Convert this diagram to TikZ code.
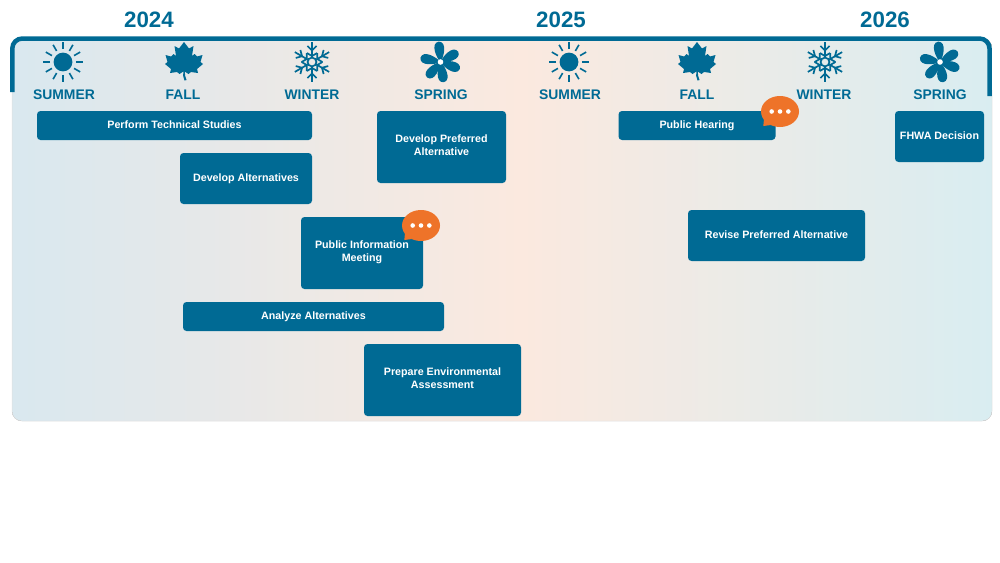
\documentclass[tikz,border=0pt]{standalone}
\usepackage{fontspec}
\setmainfont{Liberation Sans}
\usetikzlibrary{positioning,shapes.geometric,calc}
\definecolor{fhwablue}{HTML}{006A94}
\definecolor{bubbleorange}{HTML}{EE7329}
\definecolor{bgblue}{HTML}{D9E8EF}
\definecolor{bgpeach}{HTML}{FBE9DF}
\definecolor{bgteal}{HTML}{D9EDF1}
\tikzset{
	taskbox/.style={draw=none, fill=fhwablue, rounded corners=3.5pt, text=white, align=center,
		font=\fontsize{10.7}{13}\selectfont\bfseries, inner sep=0pt},
	oneline/.style={text height=7.6pt, text depth=2.5pt},
	twolines/.style={text depth=3.5pt},
	seasonlabel/.style={text=fhwablue, font=\fontsize{13.9}{16}\selectfont\bfseries, inner sep=0pt},
	yearlabel/.style={text=fhwablue, font=\fontsize{22.3}{25}\selectfont\bfseries, inner sep=0pt},
	bubble/.style={ellipse, fill=bubbleorange, minimum width=38pt, minimum height=31pt, inner sep=0pt},
	pics/sunicon/.style={code={
		\fill[fhwablue] (0,0) circle (9.4);
		\foreach \a in {0,30,...,330}
			\draw[fhwablue, line width=1.6pt] (\a:12.8) -- (\a:19.8);
	}},
	pics/leaficon/.style={code={
		\fill[fhwablue] (0,-20) -- (5,-13.5) -- (9.5,-16) -- (8,-6) -- (10.5,-8) -- (13,-5.5) -- (18.5,-7)
			-- (16.5,0) -- (19,2) -- (13,7) -- (14,11) -- (7,10) -- (4.5,12) -- (0.7,9.5)
			-- (1.2,14) -- (2.5,18) -- (0.5,18.5) -- (-0.8,14) -- (-0.7,9.5) -- (-4.5,12) -- (-7,10)
			-- (-14,11) -- (-13,7) -- (-19,2) -- (-16.5,0) -- (-18.5,-7) -- (-13,-5.5) -- (-10.5,-8)
			-- (-8,-6) -- (-9.5,-16) -- (-5,-13.5) -- cycle;
	}},
	pics/snowicon/.style={code={
		\draw[fhwablue, line width=1.7pt] (0,0) circle (4.4);
		\foreach \a in {30,90,...,330} {
			\draw[fhwablue, line width=1.7pt] (\a:4.4) -- (\a:19.8);
			\draw[fhwablue, line width=1.7pt] ($(\a:6)+(\a+60:6)$) -- (\a:6) -- ($(\a:6)+(\a-60:6)$);
			\draw[fhwablue, line width=1.7pt] ($(\a:11.5)+(\a+45:6.5)$) -- (\a:11.5) -- ($(\a:11.5)+(\a-45:6.5)$);
		}
	}},
	pics/flowericon/.style={code={
		\foreach \a in {95,30,-20,-81,-131,168}
			\fill[fhwablue, rotate=\a] (0,0) .. controls (4,3.5) and (19.5,9) .. (20.5,0) .. controls (19.5,-9) and (4,-3.5) .. (0,0) -- cycle;
		\fill[white] (0,0) circle (2.8);
	}},
}

\begin{document}
\begin{tikzpicture}[x=1pt, y=-1pt]
\useasboundingbox (0,0) rectangle (1000,562);

% panel with the colour running across the seasons
\begin{scope}
\clip[rounded corners=10pt] (12,38) rectangle (992,421);
\fill[left color=bgblue, right color=bgpeach] (12,38) rectangle (521,421);
\fill[left color=bgpeach, right color=bgteal] (521,38) rectangle (992,421);
\end{scope}
\draw[black!12, line width=0.5pt, rounded corners=10pt] (12,90) -- (12,421) -- (992,421) -- (992,90);

\draw[fhwablue, line width=4.5pt, rounded corners=10pt] (12.3,92) -- (12.3,38.5) -- (989.5,38.5) -- (989.5,96);

% years
\node[yearlabel] (y2024) at (149,20) {2024};
\node[yearlabel] (y2025) at (561,20) {2025};
\node[yearlabel] (y2026) at (885,20) {2026};

% seasons
\foreach \x/\ic/\lab/\lx in {63/sunicon/SUMMER/64, 184/leaficon/FALL/183, 312/snowicon/WINTER/312,
	440.5/flowericon/SPRING/441, 569/sunicon/SUMMER/570, 697/leaficon/FALL/697,
	825/snowicon/WINTER/824, 940/flowericon/SPRING/940} {
	\pic at (\x,62) {\ic};
	\node[seasonlabel] at (\lx,94.5) {\lab};
}

% tasks
\node[taskbox, oneline, minimum width=275pt, minimum height=29pt] (studies) at (174.5,125.5) {Perform Technical Studies};
\node[taskbox, oneline, minimum width=132pt, minimum height=51pt] (alternatives) at (246,178.5) {Develop Alternatives};
\node[taskbox, twolines, minimum width=129pt, minimum height=72pt] (preferred) at (441.5,147) {Develop Preferred\\Alternative};
\node[taskbox, twolines, minimum width=122pt, minimum height=72pt] (meeting) at (362,253) {Public Information\\Meeting};
\node[taskbox, oneline, minimum width=261pt, minimum height=29pt] (analyze) at (313.5,316.5) {Analyze Alternatives};
\node[taskbox, twolines, minimum width=157pt, minimum height=72pt] (assessment) at (442.5,380) {Prepare Environmental\\Assessment};
\node[taskbox, oneline, minimum width=157pt, minimum height=29pt] (hearing) at (697,125.5) {Public Hearing};
\node[taskbox, oneline, minimum width=177pt, minimum height=51pt] (revise) at (776.5,235.5) {Revise Preferred Alternative};
\node[taskbox, oneline, minimum width=89pt, minimum height=51pt] (decision) at (939.5,136.5) {FHWA Decision};

% speech bubbles
\foreach \n/\x/\y in {meetingbubble/421/225.5, hearingbubble/780/111.5} {
	\node[bubble] (\n) at (\x,\y) {};
	\fill[bubbleorange] ($(\n.center)+(-16,7.5)$) -- ($(\n.center)+(-16.7,14.5)$) -- ($(\n.center)+(-9,13.5)$) -- cycle;
	\foreach \d in {-8.3,0,8.3}
		\fill[white] ($(\n.center)+(\d,0)$) circle (2.3);
}

\end{tikzpicture}
\end{document}
